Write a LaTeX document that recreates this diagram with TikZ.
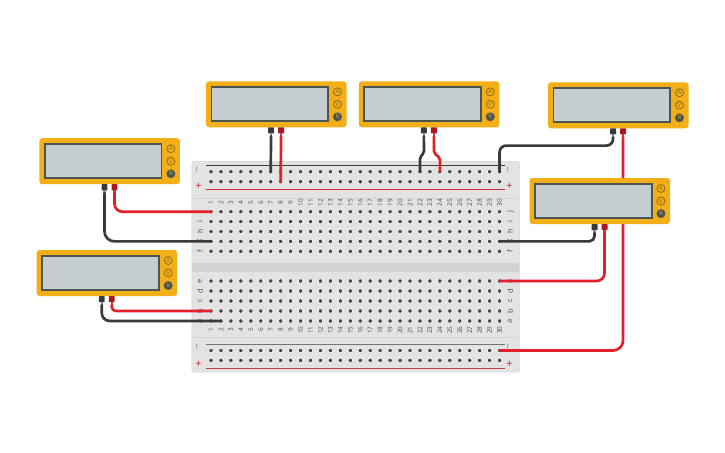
\documentclass[tikz,border=0pt]{standalone}
\usepackage{fontspec}
\setmainfont{Open Sans}
\usetikzlibrary{positioning}
\definecolor{mOrange}{HTML}{F3AF17}
\definecolor{mEdge}{HTML}{8A6D1F}
\definecolor{mDark}{HTML}{4B5454}
\definecolor{mScreen}{HTML}{C5CDD0}
\definecolor{wBlack}{HTML}{3A3A3A}
\definecolor{wRed}{HTML}{E2202A}
\definecolor{bBoard}{HTML}{E3E3E3}
\definecolor{bEdge}{HTML}{D4D4D4}
\definecolor{bBand}{HTML}{D2D2D2}
\tikzset{
  meter/.style={fill=mOrange,rounded corners=2.2pt,minimum width=105.4pt,minimum height=34.5pt,inner sep=0,outer sep=0},
  screen/.style={fill=mScreen,draw=mDark,line width=1.3pt,minimum width=87.5pt,minimum height=25.6pt,inner sep=0,outer sep=0},
  btn/.style={circle,draw=mEdge,line width=.6pt,minimum size=6pt,inner sep=0,outer sep=0,text=mEdge,font=\fontsize{4.5}{4.5}\selectfont},
  btnr/.style={btn,fill=mDark,draw=mDark,text=mOrange!70!gray},
  term/.style={minimum width=4.4pt,minimum height=4.6pt,inner sep=0,outer sep=0,rounded corners=.5pt},
  tip/.style={minimum width=1.8pt,minimum height=2.2pt,inner sep=0,outer sep=0},
  wire/.style={line width=2pt,line cap=round},
  hole/.style={circle,fill=black!72,draw=white!94!gray,line width=.5pt,minimum size=3.4pt,inner sep=0,outer sep=0},
  lbl/.style={rotate=90,text=black!70,inner sep=0,font=\fontsize{4.8}{4.8}\selectfont},
  rail/.style={line width=.7pt},
}
% one multimeter: name, left edge, top edge
\newcommand{\meter}[3]{
  \node[meter,anchor=north west] (#1) at (#2,#3) {};
  \node[screen,right=4.1pt of #1.west,anchor=west] (#1s) {};
  \node[btn,left=3.8pt of #1.east,anchor=east] (#1v) {V};
  \node[btn,above=3.4pt of #1v] (#1a) {A};
  \node[btnr,below=3.4pt of #1v] (#1o) {R};
  \node[term,fill=wBlack,below=0pt of #1.south,xshift=-3.9pt] (#1bk) {};
  \node[term,fill=wRed!75!black,below=0pt of #1.south,xshift=3.6pt] (#1rd) {};
  \node[tip,fill=black!45,below=0pt of #1bk] (#1bt) {};
  \node[tip,fill=wRed!70!gray,below=0pt of #1rd] (#1rt) {};
}
\begin{document}
\begin{tikzpicture}[x=.75pt,y=-.75pt]
    \useasboundingbox (0,0) rectangle (725,453);
    % breadboard
    \node[fill=bBoard,draw=bEdge,line width=.4pt,rounded corners=1.5pt,anchor=north west,minimum width=245.5pt,minimum height=158pt,inner sep=0] (board) at (191.7,161.2) {};
    \node[fill=bBand,anchor=north west,minimum width=245.1pt,minimum height=7pt,inner sep=0] (gap) at (191.9,262.5) {};
    \node[fill=bEdge,anchor=north west,minimum width=245.1pt,minimum height=.5pt,inner sep=0] (sepa) at (191.9,197.5) {};
    \node[fill=bEdge,anchor=north west,minimum width=245.1pt,minimum height=.5pt,inner sep=0] (sepb) at (191.9,337) {};
    \foreach \r/\ypos in {tm/171.7,tp/181.7,j/211.7,i/221.6,h/231.5,g/241.4,f/251.3,e/281,d/291,c/301,b/311,a/321,bm/350.5,bp/360.4}{
      \foreach \c in {1,...,30}{
        \pgfmathsetmacro{\xpos}{211+(\c-1)*9.95}
        \node[hole] (\r\c) at (\xpos,\ypos) {};
      }
    }
    \foreach \c in {1,...,30}{
      \pgfmathsetmacro{\xpos}{211+(\c-1)*9.95}
      \node[lbl] (nt\c) at (\xpos,203) {\c};
      \node[lbl] (nb\c) at (\xpos,330) {\c};
    }
    \foreach \r/\ypos in {j/211.7,i/221.6,h/231.5,g/241.4,f/251.3,e/281,d/291,c/301,b/311,a/321}{
      \node[lbl,font=\fontsize{5.6}{5.6}\selectfont] (ll\r) at (200,\ypos) {\r};
      \node[lbl,font=\fontsize{5.6}{5.6}\selectfont] (lr\r) at (510,\ypos) {\r};
    }
    % rails
    \node[lbl,text=black!50] (m1) at (198.5,169) {\fontsize{8}{8}\selectfont−};
    \node[lbl,text=black!50] (m2) at (509.5,169) {\fontsize{8}{8}\selectfont−};
    \node[lbl,text=black!50] (m3) at (198.5,346) {\fontsize{8}{8}\selectfont−};
    \node[lbl,text=black!50] (m4) at (509.5,346) {\fontsize{8}{8}\selectfont−};
    \node[lbl,text=wRed!85!black,rotate=-90] (p1) at (198.5,186) {\fontsize{8}{8}\selectfont+};
    \node[lbl,text=wRed!85!black,rotate=-90] (p2) at (509.5,186) {\fontsize{8}{8}\selectfont+};
    \node[lbl,text=wRed!85!black,rotate=-90] (p3) at (198.5,364) {\fontsize{8}{8}\selectfont+};
    \node[lbl,text=wRed!85!black,rotate=-90] (p4) at (509.5,364) {\fontsize{8}{8}\selectfont+};
    \coordinate (rta) at (206,165.3); \coordinate (rtb) at (505,165.3);
    \coordinate (rua) at (206,189); \coordinate (rub) at (505,189);
    \coordinate (rva) at (206,344); \coordinate (rvb) at (505,344);
    \coordinate (rwa) at (206,368); \coordinate (rwb) at (505,368);
    \draw[rail,black!75] (rta) -- (rtb);
    \draw[rail,wRed!80!gray] (rua) -- (rub);
    \draw[rail,black!55] (rva) -- (rvb);
    \draw[rail,wRed!65!gray] (rwa) -- (rwb);
    % meters, the one at the right is drawn after the long red wire
    \meter{ml}{39.4}{138.2}
    \meter{mt}{206}{81.3}
    \meter{mc}{358.8}{81.3}
    \meter{mr}{548}{82.3}
    \meter{mb}{36.7}{250}
    \draw[wire,wRed,rounded corners=7.5pt] (mrrt.south) |- (bm30.center);
    \meter{mq}{529.5}{178}
    % wires
    \draw[wire,wBlack,rounded corners=7.5pt] (mlbt.south) |- (g1.center);
    \draw[wire,wRed,rounded corners=6pt] (mlrt.south) |- (j1.center);
    \draw[wire,wBlack] (mtbt.south) -- (tm7.center);
    \draw[wire,wRed] (mtrt.south) -- (tp8.center);
    \coordinate (jka) at (424,153); \coordinate (jkb) at (420,157);
    \coordinate (jkc) at (434,153); \coordinate (jkd) at (440,158);
    \draw[wire,wBlack,rounded corners=1.5pt] (mcbt.south) -- (jka) -- (jkb) -- (tm22.center);
    \draw[wire,wRed,rounded corners=1.5pt] (mcrt.south) -- (jkc) -- (jkd) -- (tm24.center);
    \coordinate (brk) at (499.5,145.6);
    \draw[wire,wBlack,rounded corners=5pt] (mrbt.south) |- (brk) -- (tm30.center);
    \draw[wire,wBlack,rounded corners=4pt] (mqbt.south) |- (g30.center);
    \draw[wire,wRed,rounded corners=6pt] (mqrt.south) |- (e30.center);
    \draw[wire,wBlack,rounded corners=6pt] (mbbt.south) |- (a2.center);
    \draw[wire,wRed,rounded corners=3pt] (mbrt.south) |- (b1.center);
\end{tikzpicture}
\end{document}
